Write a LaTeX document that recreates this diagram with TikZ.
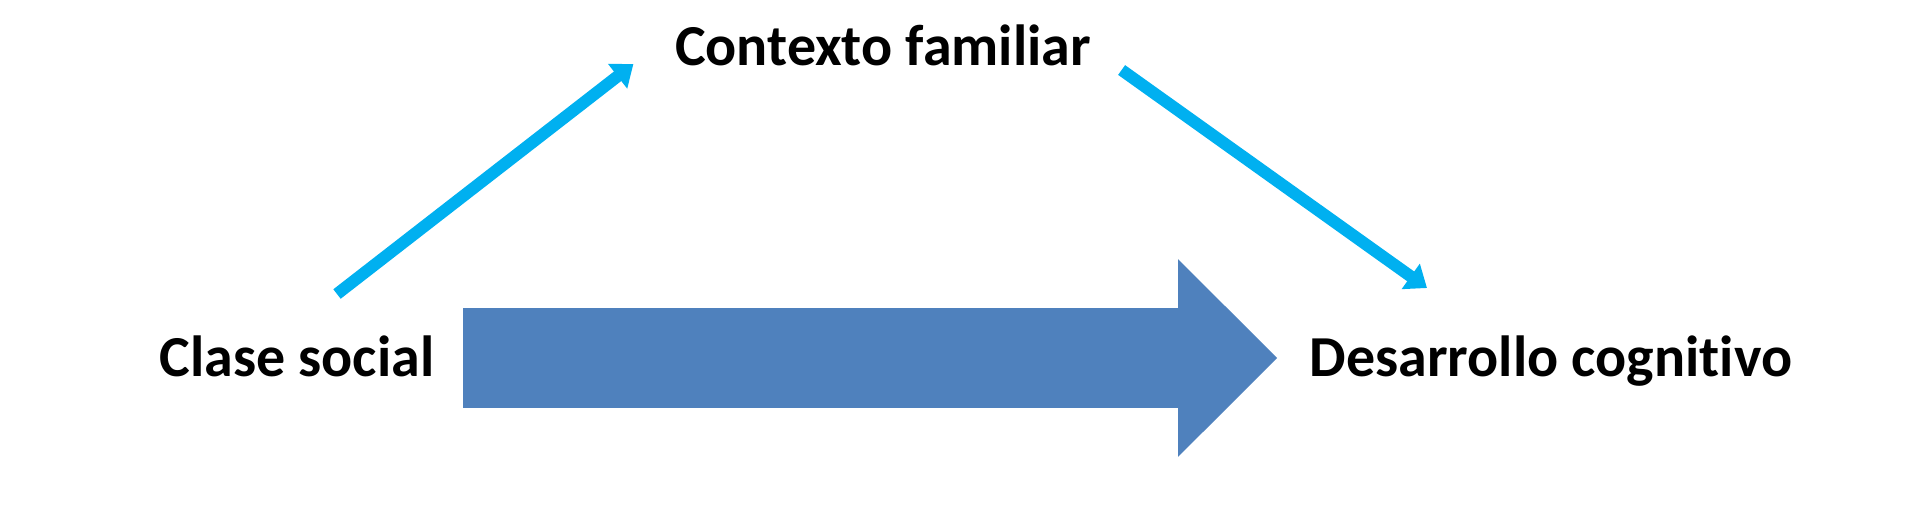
\documentclass[tikz,border=0pt]{standalone}
\usepackage{fontspec}
\setmainfont{Carlito}[Ligatures=NoCommon]
\usepackage{tikz}
\usetikzlibrary{arrows.meta}

\definecolor{cyanline}{HTML}{00B0F0}
\definecolor{bigblue}{HTML}{4F81BD}

\tikzset{
    lbl/.style={inner sep=0pt, anchor=base, font=\fontsize{16.5}{20}\selectfont\bfseries},
    thinarrow/.style={cyanline, line width=0.12cm, -{Triangle[length=0.2cm,width=0.3cm]}},
    bigarrow/.style={bigblue, line width=1cm,
        -{Triangle[length=0.99cm,width=1.97cm,line width=1pt]}}
}

\begin{document}
\begin{tikzpicture}
        % Fix the picture size
        \useasboundingbox (0,0) rectangle (19.2,5.21);
        
        % Draw the three labels
        \node[lbl] (clase) at (2.97,1.45) {Clase social};
        \node[lbl] (contexto) at (8.83,4.56) {Contexto familiar};
        \node[lbl] (desarrollo) at (15.51,1.45) {Desarrollo cognitivo};
        
        % Draw the direct effect
        \draw[bigarrow] ([shift={(0.28,0.18)}]clase.base east) -- ([shift={(-0.32,0.18)}]desarrollo.base west);
        
        % Draw the path through the family context
        \draw[thinarrow] ([shift={(0.40,0.82)}]clase.base) -- ([shift={(-0.41,0.01)}]contexto.base west);
        \draw[thinarrow] ([shift={(0.30,-0.05)}]contexto.base east) -- ([shift={(-1.24,0.88)}]desarrollo.base);
    \end{tikzpicture}
\end{document}
